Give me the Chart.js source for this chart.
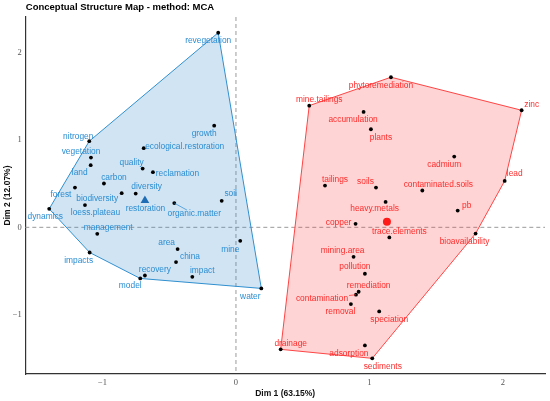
<!DOCTYPE html>
<html><head><meta charset="utf-8">
<script src="https://cdn.jsdelivr.net/npm/chart.js@4.4.0/dist/chart.umd.min.js"></script>
<style>html,body{margin:0;padding:0;background:#fff}#wrap{width:550px;height:401px;position:relative}</style>
</head><body><div id="wrap"><canvas id="c"></canvas></div>
<script>
// ---- data ----
const chartTitle = 'Conceptual Structure Map - method: MCA';
const xTitle = 'Dim 1 (63.15%)';
const yTitle = 'Dim 2 (12.07%)';
const xTicks = [-1, 0, 1, 2];
const yTicks = [-1, 0, 1, 2];
const tickLabels = {'-1': '\u22121', '0': '0', '1': '1', '2': '2'};

const blueWords = ['revegetation','growth','nitrogen','ecological.restoration','vegetation','land','quality','reclamation','carbon','forest','diversity','biodiversity','soil','dynamics','loess.plateau','organic.matter','management','area','mine','impacts','china','recovery','impact','model','water'];
const blueX = [-0.133,-0.163,-1.099,-0.691,-1.086,-1.088,-0.699,-0.622,-0.989,-1.206,-0.751,-0.856,-0.107,-1.399,-1.131,-0.462,-1.039,-0.437,0.032,-1.096,-0.449,-0.682,-0.327,-0.717,0.190];
const blueY = [2.226,1.163,0.985,0.905,0.798,0.711,0.672,0.631,0.501,0.455,0.386,0.391,0.303,0.211,0.254,0.277,-0.074,-0.249,-0.154,-0.288,-0.398,-0.551,-0.566,-0.585,-0.699];

const redWords = ['phytoremediation','mine.tailings','zinc','accumulation','plants','cadmium','lead','tailings','soils','contaminated.soils','heavy.metals','pb','copper','trace.elements','bioavailability','mining.area','pollution','remediation','contamination','removal','speciation','drainage','adsorption','sediments'];
const redX = [1.161,0.549,2.140,0.956,1.011,1.635,2.013,0.667,1.049,1.396,1.121,1.661,0.896,1.149,1.795,0.881,0.966,0.919,0.899,0.861,1.073,0.335,0.966,1.021];
const redY = [1.717,1.392,1.339,1.320,1.122,0.809,0.531,0.478,0.455,0.421,0.291,0.192,0.040,-0.116,-0.071,-0.337,-0.531,-0.737,-0.771,-0.878,-0.962,-1.396,-1.351,-1.499];

const blueCentroidLabel = ['restoration'];
const blueCentroidX = [-0.682];
const blueCentroidY = [0.306];
const redCentroidX = [1.131];
const redCentroidY = [0.063];

const blueHull = ['revegetation','water','model','impacts','dynamics','nitrogen'];
const redHull = ['phytoremediation','zinc','lead','bioavailability','sediments','drainage','mine.tailings'];

// ---- label placement (pixel offsets from each point) ----
const blueLabelDx = [-10,-10,-11,41,-10,-11,-11,24.5,10,-14,11,-24.5,9,-4,10.5,20,11,-11,-10,-11,14,10,10,-10,-11];
const blueLabelDy = [8,8,-5,-2,-6,8,-6,2,-6,7,-7,6,-7,8,8,11,-6,-6,9,8,-5,-6,-6,7,8];
const redLabelDx = [-10,10,10,-10.5,10,-10,10,10,-10.5,16,-11,9,-17,10,-11,-11,-10,10,-34,-10.5,10,10,-16,10.5];
const redLabelDy = [8,-6,-6,8,8,8,-7,-6,-6,-6,7,-5,-1,-6,8,-6,-7,-6,4,8,8,-6,8,8];
const centroidLabelDx = [0.5];
const centroidLabelDy = [8.5];
const leaderWords = ['organic.matter','contamination'];

// ---- styles ----
const BLUE_TEXT = '#2a8dd2', BLUE_LINE = '#2f8fcf', BLUE_FILL = 'rgba(55,140,205,0.23)';
const RED_TEXT = '#ff2b2b', RED_LINE = '#ff4444', RED_FILL = 'rgba(255,60,60,0.22)';
const LABEL_FONT = '8.4px "Liberation Sans", Arial, sans-serif';

function pts(xs, ys) { return xs.map((x, i) => ({x: x, y: ys[i]})); }
function hull(words, order, xs, ys) {
  const p = order.map(w => { const i = words.indexOf(w); return {x: xs[i], y: ys[i]}; });
  p.push(p[0]);
  return p;
}

const zeroLines = {
  id: 'zeroLines',
  beforeDatasetsDraw(chart) {
    const {ctx, chartArea: a, scales: {x, y}} = chart;
    ctx.save();
    ctx.strokeStyle = '#9a9a9a'; ctx.lineWidth = 1; ctx.setLineDash([4, 3]);
    const px = x.getPixelForValue(0), py = y.getPixelForValue(0);
    ctx.beginPath(); ctx.moveTo(px, a.top); ctx.lineTo(px, a.bottom); ctx.stroke();
    ctx.beginPath(); ctx.moveTo(a.left, py); ctx.lineTo(a.right, py); ctx.stroke();
    ctx.restore();
  }
};

const wordLabels = {
  id: 'wordLabels',
  afterDatasetsDraw(chart) {
    const ctx = chart.ctx;
    ctx.save();
    ctx.font = LABEL_FONT; ctx.textAlign = 'center'; ctx.textBaseline = 'middle';
    const groups = [
      {ds: 2, words: blueWords, dx: blueLabelDx, dy: blueLabelDy, color: BLUE_TEXT},
      {ds: 3, words: redWords, dx: redLabelDx, dy: redLabelDy, color: RED_TEXT},
      {ds: 4, words: blueCentroidLabel, dx: centroidLabelDx, dy: centroidLabelDy, color: BLUE_TEXT}
    ];
    groups.forEach(g => {
      const meta = chart.getDatasetMeta(g.ds);
      g.words.forEach((w, i) => {
        const el = meta.data[i];
        const lx = el.x + g.dx[i], ly = el.y + g.dy[i];
        ctx.fillStyle = g.color; ctx.strokeStyle = g.color;
        if (leaderWords.includes(w)) {
          const hw = ctx.measureText(w).width / 2 + 1, hh = 4;
          const ddx = lx - el.x, ddy = ly - el.y;
          let t = 1;
          if (Math.abs(ddx) > hw) t = Math.min(t, (Math.abs(ddx) - hw) / Math.abs(ddx));
          if (Math.abs(ddy) > hh) t = Math.min(t, Math.max((Math.abs(ddy) - hh) / Math.abs(ddy), 0));
          ctx.lineWidth = 0.7;
          ctx.beginPath(); ctx.moveTo(el.x, el.y); ctx.lineTo(el.x + ddx * t, el.y + ddy * t); ctx.stroke();
        }
        ctx.fillText(w, lx, ly);
      });
    });
    ctx.restore();
  }
};

const titleDraw = {
  id: 'titleDraw',
  afterDraw(chart) {
    const ctx = chart.ctx;
    ctx.save();
    ctx.font = 'bold 9.5px "Liberation Sans", Arial, sans-serif';
    ctx.fillStyle = '#000'; ctx.textAlign = 'left'; ctx.textBaseline = 'middle';
    ctx.fillText(chartTitle, chart.chartArea.left + 0.5, 7.5);
    ctx.restore();
  }
};

const axisCommon = {
  type: 'linear',
  grid: {display: false, drawTicks: false},
  border: {display: true, color: '#333', width: 1.2},
  ticks: {
    font: {family: '"Liberation Serif", "DejaVu Serif", serif', size: 8.5},
    color: '#555', maxRotation: 0, padding: 4,
    callback: v => tickLabels[String(v)] ?? String(v)
  }
};

new Chart(document.getElementById('c'), {
  type: 'scatter',
  data: {
    datasets: [
      {type: 'line', data: hull(blueWords, blueHull, blueX, blueY), borderColor: BLUE_LINE, borderWidth: 1, backgroundColor: BLUE_FILL, fill: 'shape', pointRadius: 0, tension: 0, order: 10},
      {type: 'line', data: hull(redWords, redHull, redX, redY), borderColor: RED_LINE, borderWidth: 1, backgroundColor: RED_FILL, fill: 'shape', pointRadius: 0, tension: 0, order: 9},
      {data: pts(blueX, blueY), backgroundColor: '#000', borderWidth: 0, pointRadius: 1.9, order: 5},
      {data: pts(redX, redY), backgroundColor: '#000', borderWidth: 0, pointRadius: 1.9, order: 4},
      {data: pts(blueCentroidX, blueCentroidY), backgroundColor: '#1f6db5', borderWidth: 0, pointStyle: 'triangle', pointRadius: 5, order: 3},
      {data: pts(redCentroidX, redCentroidY), backgroundColor: '#ff1a1a', borderWidth: 0, pointRadius: 4, order: 2}
    ]
  },
  options: {
    responsive: true, maintainAspectRatio: false, animation: false,
    layout: {padding: {top: 17, right: 5, left: 0, bottom: 0}},
    plugins: {legend: {display: false}, tooltip: {enabled: false}, title: {display: false}},
    scales: {
      x: Object.assign({}, axisCommon, {
        min: -1.578, max: 2.315,
        afterBuildTicks: s => { s.ticks = xTicks.map(v => ({value: v})); },
        afterFit: s => { s.height = 27; },
        title: {display: true, text: xTitle, color: '#111', font: {family: '"Liberation Sans", Arial, sans-serif', size: 8.5, weight: 'bold'}, padding: {top: 0, bottom: 2.5}}
      }),
      y: Object.assign({}, axisCommon, {
        min: -1.678, max: 2.406,
        afterBuildTicks: s => { s.ticks = yTicks.map(v => ({value: v})); },
        afterFit: s => { s.width = 25.3; },
        ticks: Object.assign({}, axisCommon.ticks, {padding: 3.5}),
        title: {display: true, text: yTitle, color: '#111', font: {family: '"Liberation Sans", Arial, sans-serif', size: 8.5, weight: 'bold'}, padding: {top: 3, bottom: 0}}
      })
    }
  },
  plugins: [zeroLines, wordLabels, titleDraw]
});
</script>
</body></html>
